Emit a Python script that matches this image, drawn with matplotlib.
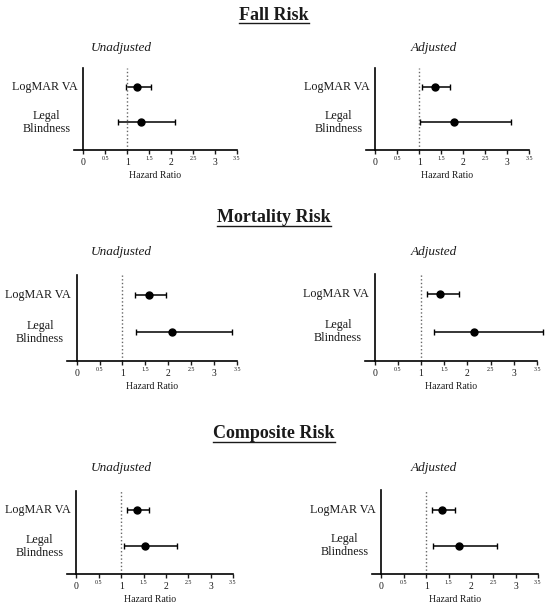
import matplotlib.pyplot as plt
from matplotlib.lines import Line2D
from matplotlib.transforms import IdentityTransform

plt.rcParams['font.family'] = ['Liberation Serif', 'DejaVu Serif']

# data (hazard ratio with 95% CI), rows: LogMAR VA, Legal Blindness
row_labels = ["LogMAR VA", "Legal\nBlindness"]
panel_titles = ["Unadjusted", "Adjusted"]
outcomes = ["Fall Risk", "Mortality Risk", "Composite Risk"]

fall_unadj_hr = [1.22, 1.31]
fall_unadj_lo = [0.97, 0.80]
fall_unadj_hi = [1.54, 2.09]
fall_adj_hr = [1.35, 1.79]
fall_adj_lo = [1.06, 1.03]
fall_adj_hi = [1.70, 3.08]

mort_unadj_hr = [1.57, 2.09]
mort_unadj_lo = [1.27, 1.30]
mort_unadj_hi = [1.94, 3.39]
mort_adj_hr = [1.41, 2.14]
mort_adj_lo = [1.13, 1.28]
mort_adj_hi = [1.81, 3.63]

comp_unadj_hr = [1.36, 1.54]
comp_unadj_lo = [1.13, 1.07]
comp_unadj_hi = [1.62, 2.24]
comp_adj_hr = [1.35, 1.74]
comp_adj_lo = [1.14, 1.16]
comp_adj_hi = [1.65, 2.59]

panels = [
    [(fall_unadj_hr, fall_unadj_lo, fall_unadj_hi), (fall_adj_hr, fall_adj_lo, fall_adj_hi)],
    [(mort_unadj_hr, mort_unadj_lo, mort_unadj_hi), (mort_adj_hr, mort_adj_lo, mort_adj_hi)],
    [(comp_unadj_hr, comp_unadj_lo, comp_unadj_hi), (comp_adj_hr, comp_adj_lo, comp_adj_hi)],
]

W, H = 550, 608
fig = plt.figure(figsize=(W / 100, H / 100), dpi=100)

# axes boxes in pixels: left, right, top, bottom
boxes = [
    [(74, 237, 68, 150), (366, 529, 68, 150)],
    [(67, 237, 275, 361), (365, 537, 274, 361)],
    [(67, 233, 491, 574), (372, 538, 490, 574)],
]
main_y = [15, 218, 434]
sub_y = [48, 252, 468]
sub_x = [121, 434]

ink = '#1a1a1a'
titles = []
for i, outcome in enumerate(outcomes):
    t = fig.text(274 / W, 1 - main_y[i] / H, outcome, ha='center', va='center',
                 fontsize=13, fontweight='bold', color=ink)
    titles.append(t)
    for j in range(2):
        l, r, top, bot = boxes[i][j]
        ax = fig.add_axes([l / W, 1 - bot / H, (r - l) / W, (bot - top) / H])
        hr, lo, hi = panels[i][j]
        ys = [2, 1]
        for y, h, a, b in zip(ys, hr, lo, hi):
            ax.errorbar(h, y, xerr=[[h - a], [b - h]], fmt='o', color='black',
                        ms=5, elinewidth=1.1, capsize=2, capthick=1, clip_on=False)
        ax.axvline(1, color='#666666', ls=':', lw=1)
        ax.set_xlim(-0.21, 3.5)
        ax.set_ylim(0.22, 2.54)
        for s in ['top', 'right']:
            ax.spines[s].set_visible(False)
        ax.spines['left'].set_position(('data', 0))
        ax.spines['left'].set_linewidth(1.2)
        ax.spines['bottom'].set_linewidth(1.2)
        ax.set_yticks([])
        ax.set_xticks([0, 1, 2, 3])
        ax.set_xticklabels(['0', '1', '2', '3'])
        ax.set_xticks([0.5, 1.5, 2.5, 3.5], minor=True)
        ax.set_xticklabels(['0.5', '1.5', '2.5', '3.5'], minor=True)
        ax.tick_params(axis='x', which='major', labelsize=7, length=3, width=1, pad=2.5, colors=ink)
        ax.tick_params(axis='x', which='minor', labelsize=4.3, length=3, width=1, pad=1.5, colors=ink)
        ax.set_xlabel('Hazard Ratio', fontsize=7, labelpad=3, color=ink)
        ax.annotate(row_labels[0], xy=(0, 2), xytext=(-4, 0), textcoords='offset points',
                    ha='right', va='center', fontsize=8.7, color=ink)
        ax.annotate(row_labels[1], xy=(0, 1), xytext=(-9, 0), textcoords='offset points',
                    ha='right', va='center', fontsize=8.7, color=ink, multialignment='center',
                    linespacing=1.1)
        fig.text(sub_x[j] / W, 1 - sub_y[i] / H, panel_titles[j], ha='center', va='center',
                 fontsize=9.5, style='italic', color=ink)

# underline the section titles
fig.canvas.draw()
for t in titles:
    bb = t.get_window_extent()
    fig.add_artist(Line2D([bb.x0, bb.x1], [bb.y0 + 1, bb.y0 + 1], transform=IdentityTransform(),
                          color=ink, lw=1))

fig.savefig('out.png', dpi=100)
